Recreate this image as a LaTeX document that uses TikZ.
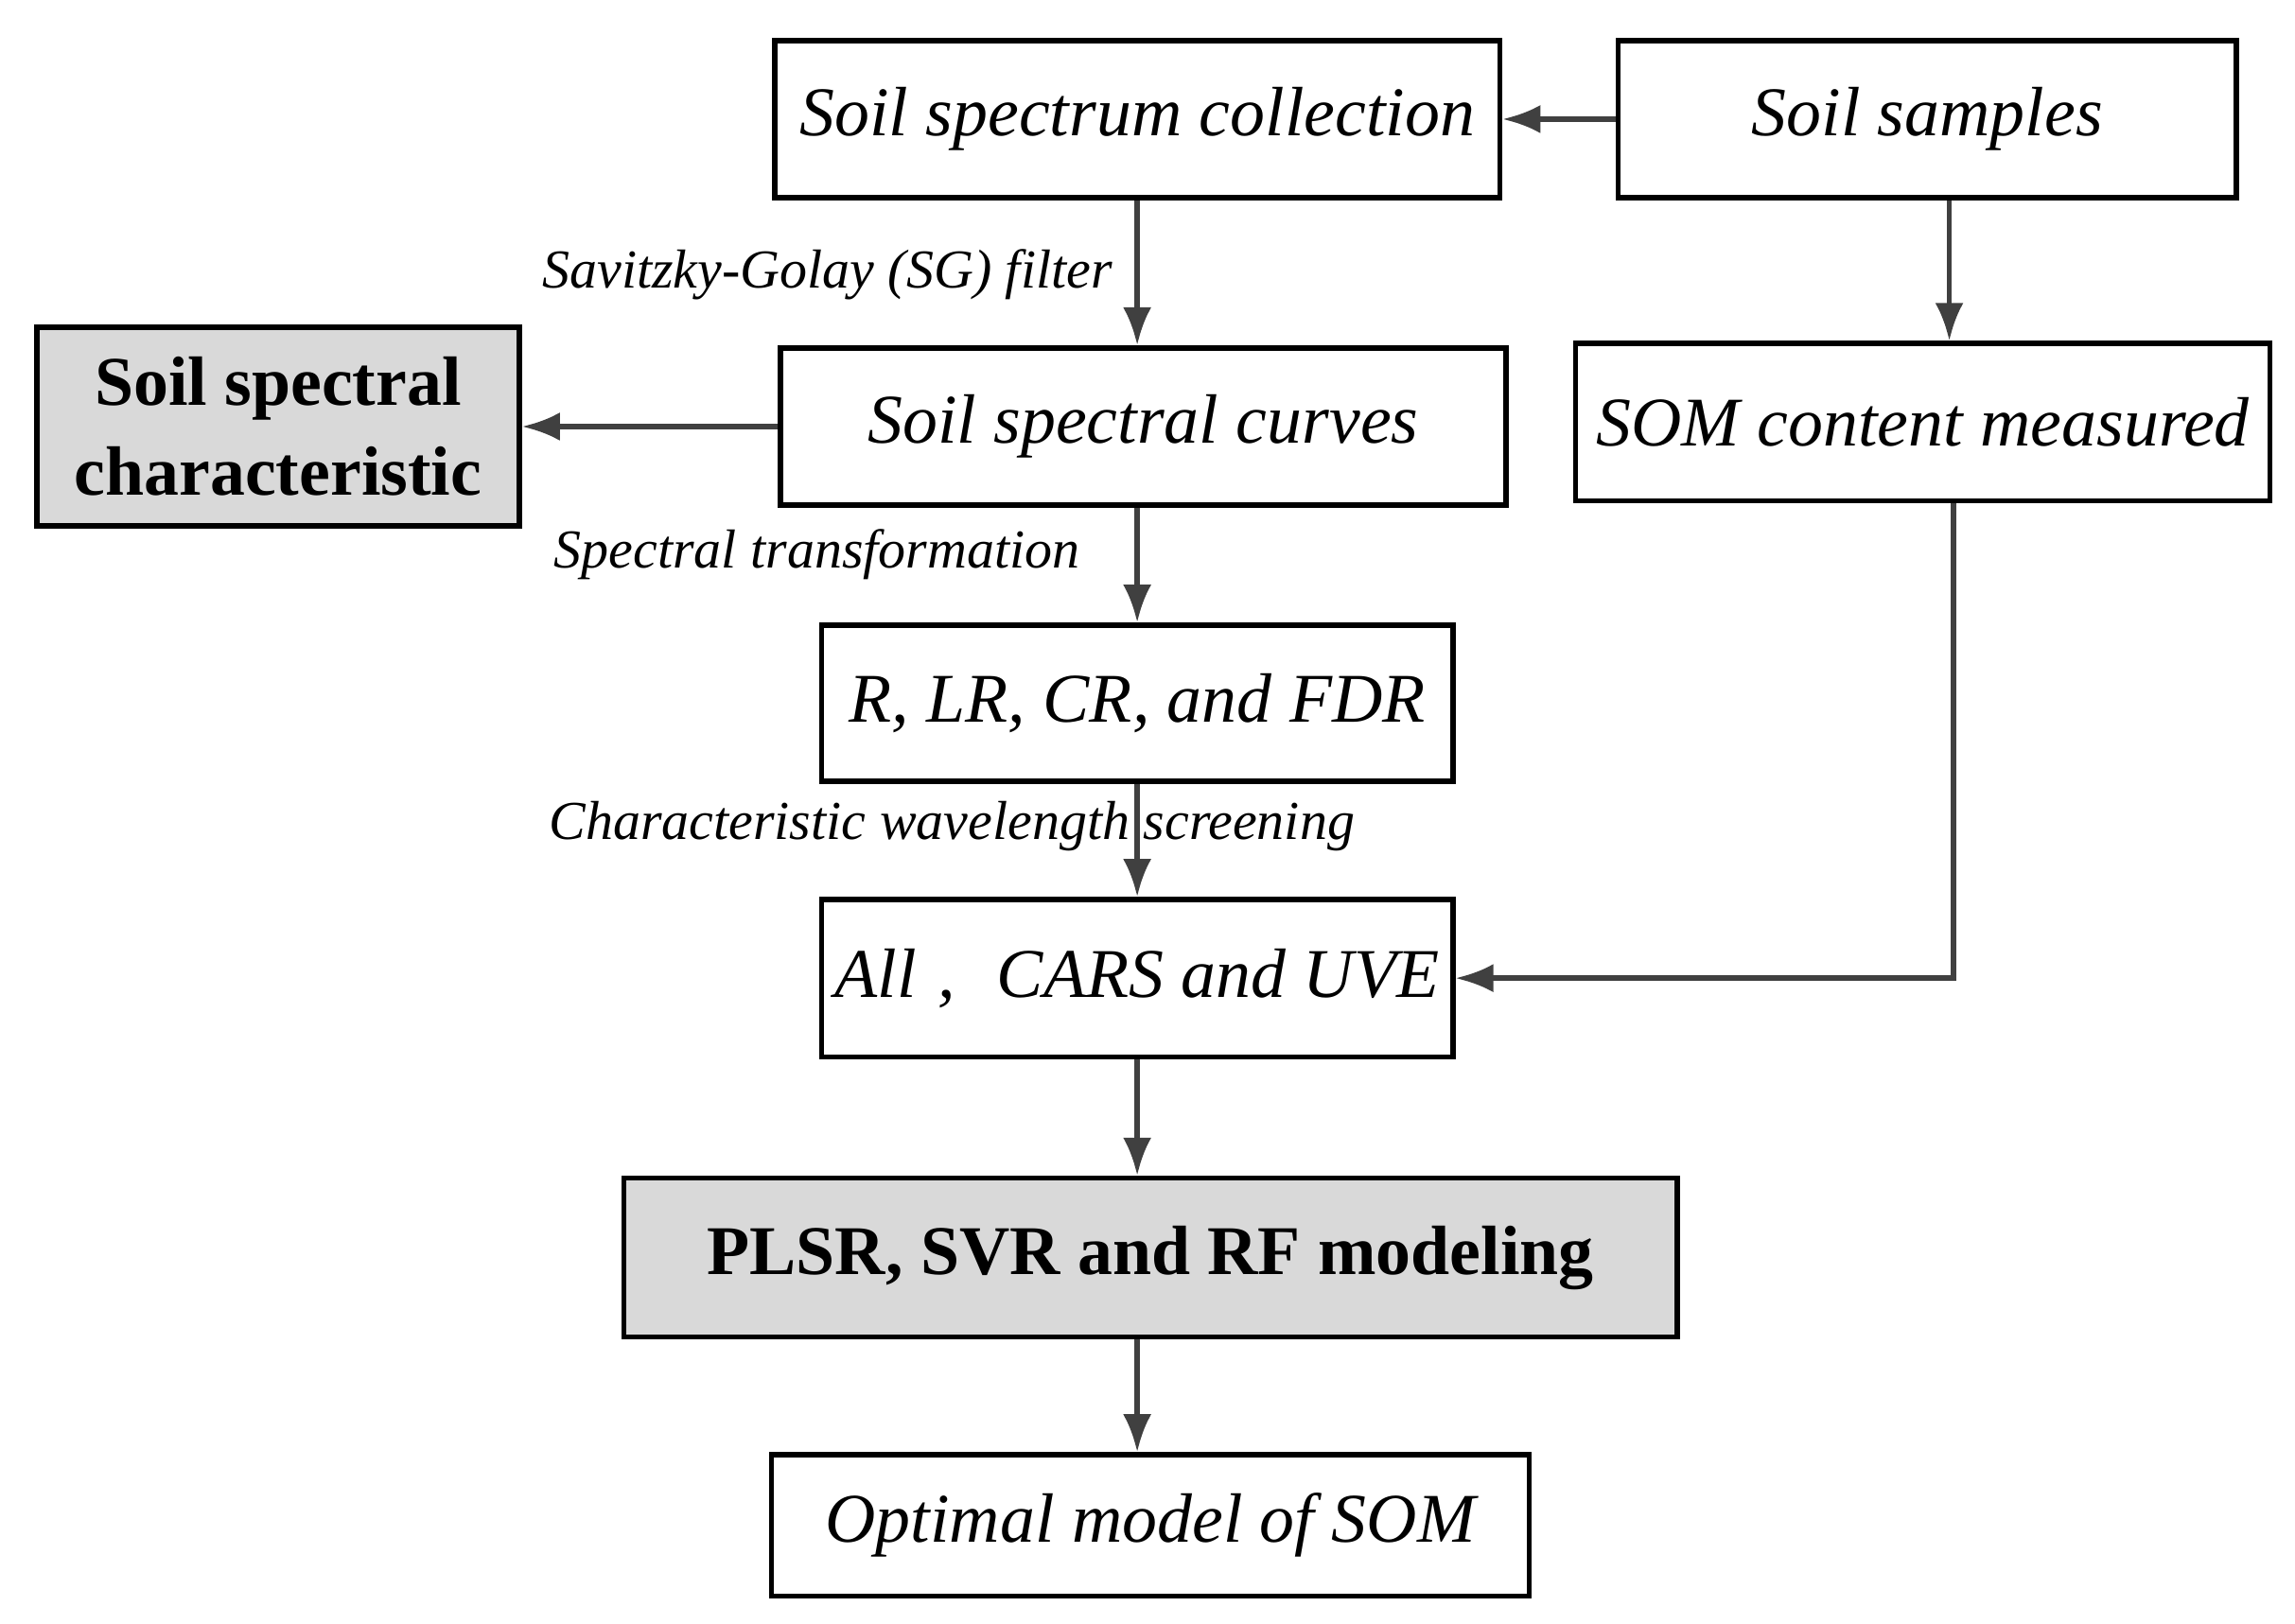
\documentclass[tikz,border=0pt]{standalone}
\usepackage{fontspec}
\setmainfont{Liberation Serif}
\usetikzlibrary{arrows.meta}
\tikzset{
  box/.style={draw, line width=1.6pt, inner sep=0pt, font=\fontsize{21}{25}\selectfont\itshape},
  gbox/.style={box, fill=gray!30, font=\fontsize{21}{27}\selectfont\bfseries, align=center},
  lab/.style={font=\fontsize{16.5}{20}\selectfont\itshape},
  arr/.style={draw=black!75, line width=1.6pt, -{Latex[length=4mm,width=3mm]}}
}
\begin{document}
\begin{tikzpicture}[x=0.01555cm, y=-0.01555cm]
  \useasboundingbox (0,0) rectangle (1560,1104);
  % boxes
  \node[box, minimum width=493*0.01555cm, minimum height=107*0.01555cm] (coll) at (773,81) {Soil spectrum collection};
  \node[box, minimum width=420*0.01555cm, minimum height=107*0.01555cm] (samp) at (1310,81) {Soil samples};
  \node[gbox, minimum width=328*0.01555cm, minimum height=135*0.01555cm] (char) at (189,290) {Soil spectral\\characteristic};
  \node[box, minimum width=493*0.01555cm, minimum height=107*0.01555cm] (curv) at (777,290) {Soil spectral curves};
  \node[box, minimum width=472*0.01555cm, minimum height=107*0.01555cm] (som) at (1307,287) {SOM content measured};
  \node[box, minimum width=429*0.01555cm, minimum height=106*0.01555cm] (trans) at (773,478) {R, LR, CR, and FDR};
  \node[box, minimum width=429*0.01555cm, minimum height=107*0.01555cm] (sel) at (773,665) {All\hspace{0.3em},\hspace{0.6em}CARS and UVE};
  \node[gbox, minimum width=716*0.01555cm, minimum height=108*0.01555cm] (model) at (782,855) {PLSR, SVR and RF modeling};
  \node[box, minimum width=515*0.01555cm, minimum height=96*0.01555cm] (opt) at (782,1037) {Optimal model of SOM};
  % labels
  \node[lab, anchor=east] at (764,187) {Savitzky-Golay (SG) filter};
  \node[lab, anchor=east] at (742,377) {Spectral transformation};
  \node[lab] at (647,562) {Characteristic wavelength screening};
  % connectors
  \draw[arr] (samp.west) -- (coll.east);
  \draw[arr] (coll.south -| 773,0) -- (curv.north -| 773,0);
  \draw[arr] (samp.south -| 1325,0) -- (som.north -| 1325,0);
  \draw[arr] (curv.west) -- (char.east);
  \draw[arr] (curv.south -| 773,0) -- (trans.north);
  \draw[arr] (trans.south) -- (sel.north);
  \draw[arr] (som.south -| 1328,0) |- (sel.east);
  \draw[arr] (sel.south) -- (model.north -| sel.south);
  \draw[arr] (model.south -| sel.south) -- (opt.north -| sel.south);
\end{tikzpicture}
\end{document}
